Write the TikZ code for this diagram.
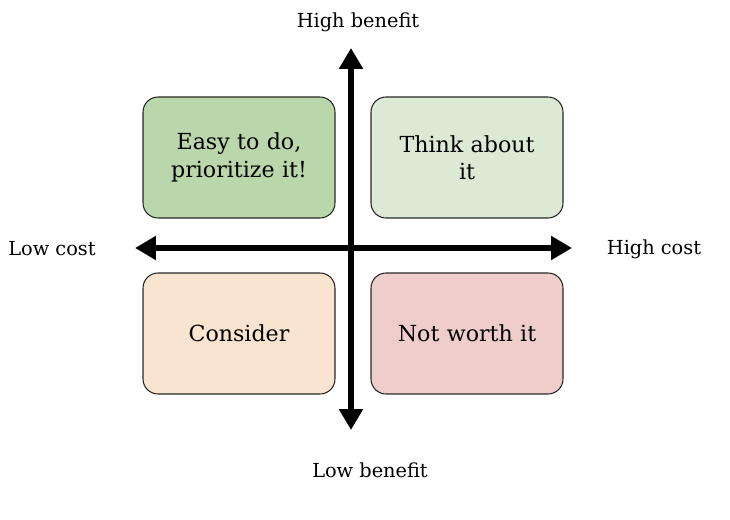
\documentclass[tikz,border=0pt]{standalone}
\usepackage{fontspec}
\setmainfont{DejaVu Serif}
\usetikzlibrary{arrows.meta}
\definecolor{easygreen}{HTML}{B9D7AA}
\definecolor{thinkgreen}{HTML}{DCE9D5}
\definecolor{considerorange}{HTML}{F9E5CF}
\definecolor{notred}{HTML}{EFCDCB}
\begin{document}
\begin{tikzpicture}[x=0.02cm,y=-0.02cm,
    quadrant/.style={draw=black!85, line width=0.6pt, rounded corners=0.3cm, minimum width=3.84cm,
      minimum height=2.42cm, align=center, text width=3.5cm, font=\fontsize{12.6}{15.5}\selectfont},
    axislabel/.style={font=\fontsize{11}{13}\selectfont},
    axis/.style={line width=1.2mm, {Triangle[length=4.2mm,width=4.6mm]}-{Triangle[length=4.2mm,width=4.6mm]}}]
    \useasboundingbox (0,0) rectangle (730,520);

    \node (easy) [quadrant, fill=easygreen] at (239,157.5) {Easy to do,\\prioritize it!};
    \node (think) [quadrant, fill=thinkgreen] at (467,157.5) {Think about\\it};
    \node (consider) [quadrant, fill=considerorange] at (239,333.5) {Consider};
    \node (notworth) [quadrant, fill=notred] at (467,333.5) {Not worth it};

    \coordinate (top) at (351,48);
    \coordinate (bottom) at (351,430);
    \coordinate (left) at (135,248);
    \coordinate (right) at (572,248);

    \draw[axis] (bottom) -- (top);
    \draw[axis] (left) -- (right);

    \node (highben) [axislabel] at (358,22) {High benefit};
    \node (lowben) [axislabel] at (370,470) {Low benefit};
    \node (lowcost) [axislabel] at (52,249) {Low cost};
    \node (highcost) [axislabel] at (654,249) {High cost};
  \end{tikzpicture}
\end{document}
